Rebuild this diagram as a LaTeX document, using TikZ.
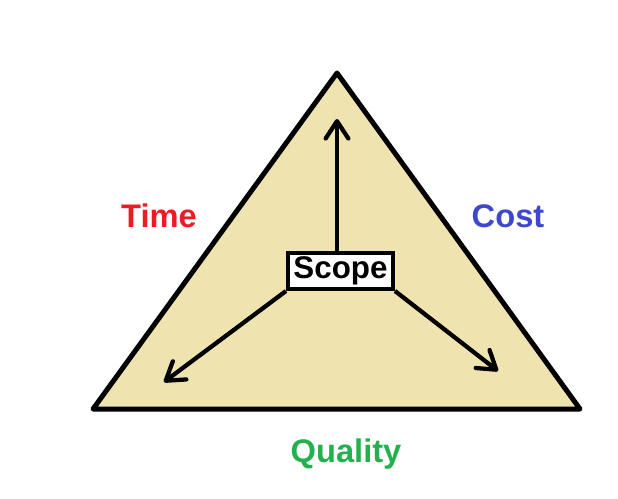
\documentclass[tikz,border=0pt]{standalone}
\usepackage{fontspec}
\setmainfont{Liberation Sans}
\usetikzlibrary{arrows.meta}
\definecolor{tan}{RGB}{239,228,176}
\definecolor{timered}{RGB}{237,28,36}
\definecolor{costblue}{RGB}{63,72,204}
\definecolor{qualgreen}{RGB}{34,177,76}
\tikzset{
	label/.style={font=\bfseries\fontsize{24.5}{28}\selectfont},
	pointer/.style={line width=3.2pt, -{Straight Barb[length=13pt, width=17pt, round]}}
}

\begin{document}
\begin{tikzpicture}[x=0.75pt, y=-0.75pt]
		%%%%% START %%%%%
		\useasboundingbox (0, 0) rectangle (618, 499);
		
		\draw[line width=3.75pt, line join=round, fill=tan] (93, 409) -- (337, 73) -- (580, 409) -- cycle;
		
		\node[draw, fill=white, line width=3pt, minimum width=78.75pt, minimum height=27pt, inner sep=0pt,
			font=\bfseries\fontsize{23.5}{26}\selectfont] (scope) at (340.5, 271) {Scope};
		
		\coordinate (up) at (337, 119);
		\coordinate (left) at (164, 382);
		\coordinate (right) at (498, 371);
		
		\draw[pointer] (scope.north -| up) -- (up);
		\draw[pointer] (scope.south west) -- (left);
		\draw[pointer] (scope.south east) -- (right);
		
		\node[label, text=timered] (time) at (159, 216) {Time};
		\node[label, text=costblue] (cost) at (508, 216) {Cost};
		\node[label, text=qualgreen] (quality) at (346, 454) {Quality};
		%%%%% END %%%%%
\end{tikzpicture}
\end{document}
